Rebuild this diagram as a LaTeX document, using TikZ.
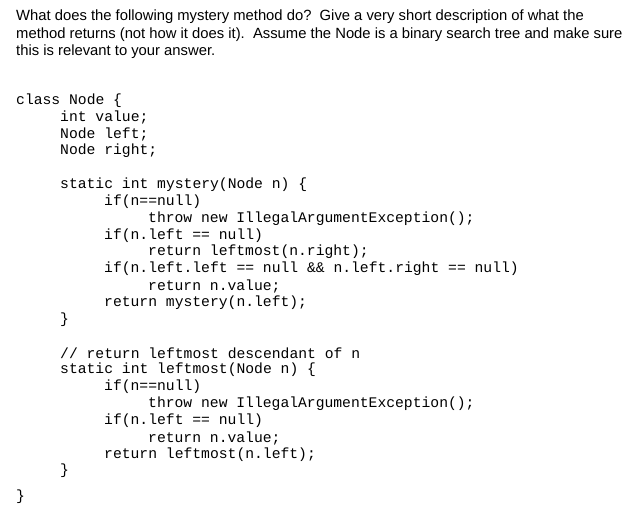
\documentclass[tikz,border=0pt]{standalone}
\usepackage{fontspec}
\setmainfont{Liberation Sans}
\setmonofont{Liberation Mono}
\begin{document}
\begin{tikzpicture}[x=1pt,y=-1pt,
  hd/.style={anchor=west,inner sep=0pt,font=\fontsize{14.8}{16}\selectfont},
  cd/.style={anchor=west,inner sep=0pt,font=\ttfamily\fontsize{14.7}{17}\selectfont}]
\useasboundingbox[fill=white] (0,0) rectangle (634,506);
\node[hd] (h1) at (16,17) {What does the following mystery method do?\ \ Give a very short description of what the};
\node[hd] (h2) at (16,34.5) {method returns (not how it does it).\ \ Assume the Node is a binary search tree and make sure};
\node[hd] (h3) at (16,52) {this is relevant to your answer.};
\node[cd] (c1) at (16,101) {class Node \{};
\node[cd] (c2) at (60,117) {int value;};
\node[cd] (c3) at (60,134) {Node left;};
\node[cd] (c4) at (60,151) {Node right;};
\node[cd] (c5) at (60,185) {static int mystery(Node n) \{};
\node[cd] (c6) at (104,202) {if(n==null)};
\node[cd] (c7) at (148,219) {throw new IllegalArgumentException();};
\node[cd] (c8) at (104,236) {if(n.left == null)};
\node[cd] (c9) at (148,252) {return leftmost(n.right);};
\node[cd] (c10) at (104,269) {if(n.left.left == null \&\& n.left.right == null)};
\node[cd] (c11) at (148,286) {return n.value;};
\node[cd] (c12) at (104,303) {return mystery(n.left);};
\node[cd] (c13) at (60,320) {\}};
\node[cd] (c14) at (60,353) {// return leftmost descendant of n};
\node[cd] (c15) at (60,370) {static int leftmost(Node n) \{};
\node[cd] (c16) at (104,387) {if(n==null)};
\node[cd] (c17) at (148,404) {throw new IllegalArgumentException();};
\node[cd] (c18) at (104,421) {if(n.left == null)};
\node[cd] (c19) at (148,438) {return n.value;};
\node[cd] (c20) at (104,455) {return leftmost(n.left);};
\node[cd] (c21) at (60,471) {\}};
\node[cd] (c22) at (16,497) {\}};
\end{tikzpicture}
\end{document}
